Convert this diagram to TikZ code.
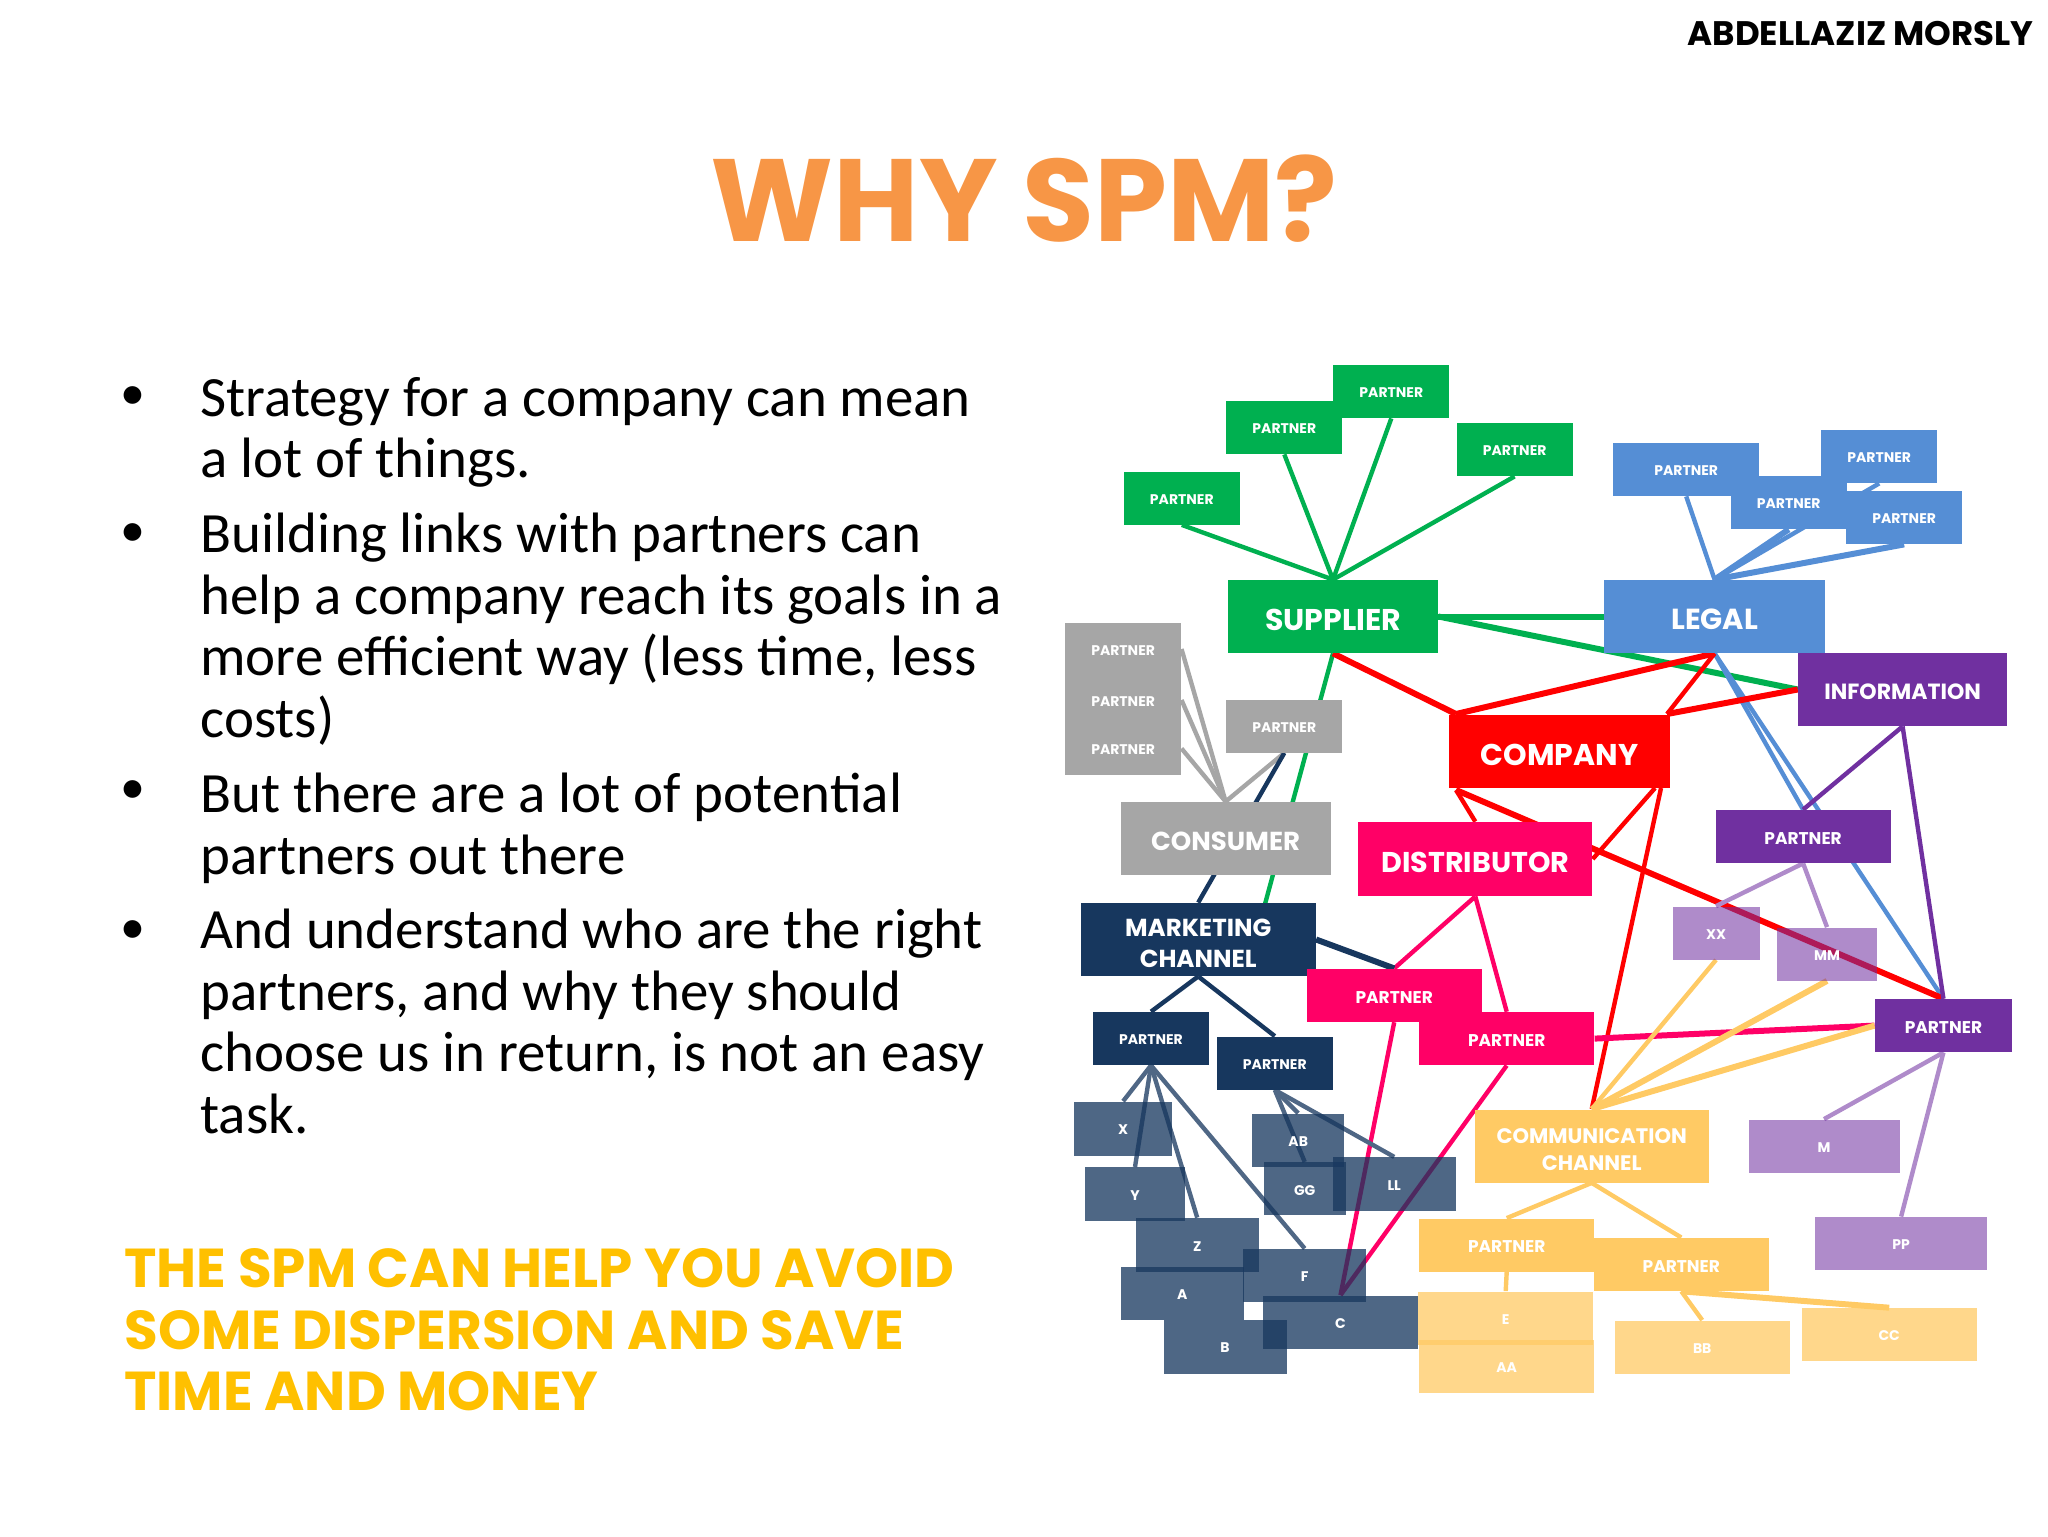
\documentclass[tikz,border=0pt]{standalone}
\usepackage{fontspec}
\setmainfont{Carlito}
\newfontfamily\headfont{Poppins}
\definecolor{sgreen}{HTML}{00B050}
\definecolor{sblue}{HTML}{558ED5}
\definecolor{spurple}{HTML}{7030A0}
\definecolor{spink}{HTML}{FF0066}
\definecolor{sgray}{HTML}{A6A6A6}
\definecolor{snavy}{HTML}{17375E}
\definecolor{syellow}{HTML}{FFC000}
\definecolor{scomm}{HTML}{FFCA64}
\definecolor{sorange}{HTML}{F79646}
\tikzset{
    box/.style={rectangle, fill=#1, inner sep=0pt, text=white, align=center,
    	text height=6.2pt, text depth=0pt,
    	font=\headfont\bfseries\fontsize{7}{9}\selectfont},
    size/.style 2 args={minimum width=#1*.5pt, minimum height=#2*.5pt},
    psize/.style={size={116}{53}},
    wsize/.style={size={175}{53}},
    big/.style={text height=\dimexpr#1pt*92/100\relax,
    	font=\headfont\bfseries\fontsize{#1}{15.5}\selectfont},
    mid/.style={big=8.5},
    twoline/.style={text height={}, text depth={}},
    faded/.style={fill opacity=#1, text opacity=1},
    wire/.style={draw=#1, line width=2.2pt},
    fatwire/.style={draw=#1, line width=3pt},
    bodytext/.style={anchor=north west, align=left, inner sep=0pt, text=black,
    	font=\fontsize{28.47}{30.7}\selectfont},
    bulletmark/.style={inner sep=0pt, font=\fontsize{25}{30}\selectfont}
}
\pgfdeclarelayer{background}
\pgfsetlayers{background,main}
\begin{document}
\begin{tikzpicture}[x=.5pt, y=-.5pt]
  \useasboundingbox (0,0) rectangle (2048,1536);

  \node (author) [anchor=east, inner sep=0pt, font=\headfont\bfseries\fontsize{17}{20}\selectfont] at (2034,34) {ABDELLAZIZ MORSLY};
  \node (title) [inner sep=0pt, text=sorange, font=\headfont\bfseries\fontsize{58.5}{70}\selectfont] at (1024,199) {WHY SPM?};

  \node (b1) [bulletmark] at (133,398) {•};
  \node (b2) [bulletmark] at (133,535) {•};
  \node (b3) [bulletmark] at (133,792) {•};
  \node (b4) [bulletmark] at (133,932) {•};
  \node (t1) [bodytext] at (200,377) {Strategy for a company can mean\\a lot of things.};
  \node (t2) [bodytext] at (200,513) {Building links with partners can\\help a company reach its goals in a\\more efficient way (less time, less\\costs)};
  \node (t3) [bodytext] at (200,773) {But there are a lot of potential\\partners out there};
  \node (t4) [bodytext] at (200,909) {And understand who are the right\\partners, and why they should\\choose us in return, is not an easy\\task.};
  \node (tag) [anchor=north west, align=left, inner sep=0pt, text=syellow, font=\headfont\bfseries\fontsize{27.4}{30.8}\selectfont] at (124,1248) {THE SPM CAN HELP YOU AVOID\\SOME DISPERSION AND SAVE\\TIME AND MONEY};

  % supplier group
  \node (gl) [box=sgreen, psize] at (1181.8,498) {PARTNER};
  \node (gb) [box=sgreen, psize] at (1284.3,427.5) {PARTNER};
  \node (gt) [box=sgreen, psize] at (1391.3,391.5) {PARTNER};
  \node (gr) [box=sgreen, psize] at (1514.6,449.5) {PARTNER};
  \node (supplier) [box=sgreen, big=15, size={210}{73}] at (1333,616.5) {SUPPLIER};

  % legal group
  \node (ba) [box=sblue, size={146}{53}] at (1686.2,469.5) {PARTNER};
  \node (bt) [box=sblue, psize] at (1879.2,456.5) {PARTNER};
  \node (bm) [box=sblue, psize] at (1788.7,502.5) {PARTNER};
  \node (br) [box=sblue, psize] at (1904.1,517.5) {PARTNER};
  \node (legal) [box=sblue, big=14.5, size={221}{73}] at (1714.6,616.5) {LEGAL};

  % consumer group
  \node (c1) [box=sgray, psize] at (1123.1,649) {PARTNER};
  \node (c2) [box=sgray, psize] at (1123.1,700) {PARTNER};
  \node (c3) [box=sgray, psize] at (1123.1,748.5) {PARTNER};
  \node (c4) [box=sgray, psize] at (1284.3,726) {PARTNER};
  \node (consumer) [box=sgray, big=13, size={210}{73}] at (1225.6,838.5) {CONSUMER};

  \node (info) [box=spurple, big=11, size={209}{73}] at (1902.6,689.5) {INFORMATION};
  \node (company) [box=red, big=15, size={221}{73}] at (1559.4,751.5) {COMPANY};
  \node (dist) [box=spink, big=14.3, size={234}{74}] at (1475.3,859) {DISTRIBUTOR};

  % marketing group
  \node (mkt) [box=snavy, big=12.3, twoline, size={235}{73}] at (1198.2,939.5) {\rule{0pt}{13pt}MARKETING\\CHANNEL};
  \node (m1) [box=snavy, psize] at (1151,1038.5) {PARTNER};
  \node (m2) [box=snavy, psize] at (1274.8,1063) {PARTNER};
  \node (nx) [box=snavy, faded=.76, size={98}{54}] at (1123.1,1128.6) {X};
  \node (ny) [box=snavy, faded=.76, size={100}{54}] at (1135,1194.3) {Y};
  \node (na) [box=snavy, faded=.76, size={123}{53}] at (1182.3,1293.3) {A};
  \node (nz) [box=snavy, faded=.76, size={123}{54}] at (1197.2,1245) {Z};
  \node (nb) [box=snavy, faded=.76, size={123}{54}] at (1225,1346.5) {B};
  \node (nf) [box=snavy, faded=.76, size={123}{53}] at (1304.7,1275.4) {F};
  \node (nc) [box=snavy, faded=.76, size={155}{53}] at (1340.5,1322) {C};
  \node (nab) [box=snavy, faded=.76, size={92}{53}] at (1298.2,1140) {AB};
  \node (ngg) [box=snavy, faded=.76, size={82}{53}] at (1304.7,1188.8) {GG};
  \node (nll) [box=snavy, faded=.76, size={123}{54}] at (1394.2,1184.3) {LL};

  % distributor partners
  \node (d1) [box=spink, wsize, mid] at (1394.2,995.3) {PARTNER};
  \node (d2) [box=spink, wsize, mid] at (1506.7,1038.6) {PARTNER};

  % information partners
  \node (p1) [box=spurple, wsize, mid] at (1803.1,836.5) {PARTNER};
  \node (p2) [box=spurple, size={137}{53}, mid] at (1943.4,1025.6) {PARTNER};
  \node (xx) [box=spurple, faded=.56, size={87}{53}] at (1716,933) {XX};
  \node (mm) [box=spurple, faded=.56, size={100}{53}] at (1827,954) {MM};
  \node (nm) [box=spurple, faded=.56, size={151}{53}] at (1824,1146) {M};
  \node (pp) [box=spurple, faded=.56, size={172}{53}] at (1901.1,1243.5) {PP};

  % communication group
  \node (comm) [box=scomm, big=10.5, twoline, size={234}{73}] at (1591.7,1146) {\rule{0pt}{11pt}COMMUNICATION\\[-2pt]CHANNEL};
  \node (y1) [box=scomm, wsize, mid] at (1506.7,1245) {PARTNER};
  \node (y2) [box=scomm, wsize, mid] at (1681.3,1264.4) {PARTNER};
  \node (ne) [box=scomm, faded=.75, wsize] at (1505.7,1318) {E};
  \node (naa) [box=scomm, faded=.75, wsize] at (1506.7,1366) {AA};
  \node (nbb) [box=scomm, faded=.75, wsize] at (1702.2,1347) {BB};
  \node (ncc) [box=scomm, faded=.75, wsize] at (1889.2,1334.6) {CC};

  % free ends of lines
  \coordinate (mkttop) at (1265,904);
  \coordinate (cmpa) at (1655,788);
  \coordinate (cmpb) at (1661,788);
  \coordinate (cmpc) at (1456,790);
  \coordinate (cmpd) at (1456,714);
  \coordinate (cmpe) at (1667,714);

  \begin{pgfonlayer}{background}
  \draw [wire=sgreen] (gl.south) edge (supplier.north);
  \draw [wire=sgreen] (gb.south) edge (supplier.north);
  \draw [wire=sgreen] (gt.south) edge (supplier.north);
  \draw [wire=sgreen] (gr.south) edge (supplier.north);
  \draw [fatwire=sgreen] (supplier.east) edge (legal.west);
  \draw [fatwire=sgreen] (supplier.east) edge (info.west);
  \draw [wire=sgreen] (supplier.south) edge (mkttop);

  \draw [wire=sblue] (ba.south) edge (legal.north);
  \draw [wire=sblue] (bt.south) edge (legal.north);
  \draw [fatwire=sblue] (bm.south) edge (legal.north);
  \draw [fatwire=sblue] (br.south) edge (legal.north);
  \draw [wire=sblue] (legal.south) edge (p1.north);
  \draw [wire=sblue] (legal.south) edge (p2.north);

  \draw [wire=sgray] (c1.east) edge (consumer.north);
  \draw [wire=sgray] (c2.east) edge (consumer.north);
  \draw [wire=sgray] (c3.east) edge (consumer.north);
  \draw [wire=sgray] (c4.south) edge (consumer.north);
  \draw [wire=snavy] (c4.south) edge (mkt.north);

  \draw [fatwire=red] (supplier.south) edge (cmpd);
  \draw [fatwire=red] (legal.south) edge (cmpd);
  \draw [wire=red] (legal.south) edge (cmpe);
  \draw [fatwire=red] (info.west) edge (cmpe);
  \draw [wire=red] (cmpc) edge (dist.north);
  \draw [fatwire=red] (cmpc) edge (p2.north);
  \draw [wire=red] (cmpa) edge (dist.east);
  \draw [wire=red] (cmpb) edge (comm.north);

  \draw [wire=spink] (dist.south) edge (d1.north);
  \draw [wire=spink] (dist.south) edge (d2.north);
  \draw [wire=spink] (d1.south) edge (nc.north);
  \draw [wire=spink] (d2.south) edge (nc.north);
  \draw [fatwire=spink] (d2.east) edge (p2.west);

  \draw [fatwire=snavy] (mkt.east) edge (d1.north);
  \draw [wire=snavy] (mkt.south) edge (m1.north);
  \draw [wire=snavy] (mkt.south) edge (m2.north);
  \draw [wire=snavy!76!white] (m1.south) edge (nx.north);
  \draw [wire=snavy!76!white] (m1.south) edge (ny.north);
  \draw [wire=snavy!76!white] (m1.south) edge (nz.north);
  \draw [wire=snavy!76!white] (m1.south) edge (nf.north);
  \draw [wire=snavy!76!white] (m2.south) edge (nab.north);
  \draw [wire=snavy!76!white] (m2.south) edge (ngg.north);
  \draw [wire=snavy!76!white] (m2.south) edge (nll.north);

  \draw [wire=spurple] (info.south) edge (p1.north);
  \draw [wire=spurple] (info.south) edge (p2.north);
  \draw [wire=spurple!56!white] (p1.south) edge (xx.north);
  \draw [wire=spurple!56!white] (p1.south) edge (mm.north);
  \draw [wire=spurple!56!white] (p2.south) edge (nm.north);
  \draw [wire=spurple!56!white] (p2.south) edge (pp.north);

  \draw [wire=scomm] (xx.south) edge (comm.north);
  \draw [fatwire=scomm] (mm.south) edge (comm.north);
  \draw [fatwire=scomm] (p2.west) edge (comm.north);
  \draw [wire=scomm] (comm.south) edge (y1.north);
  \draw [wire=scomm] (comm.south) edge (y2.north);
  \draw [wire=scomm] (y1.south) edge (ne.north);
  \draw [wire=scomm] (y2.south) edge (nbb.north);
  \draw [fatwire=scomm] (y2.south) edge (ncc.north);
  \end{pgfonlayer}
\end{tikzpicture}
\end{document}
